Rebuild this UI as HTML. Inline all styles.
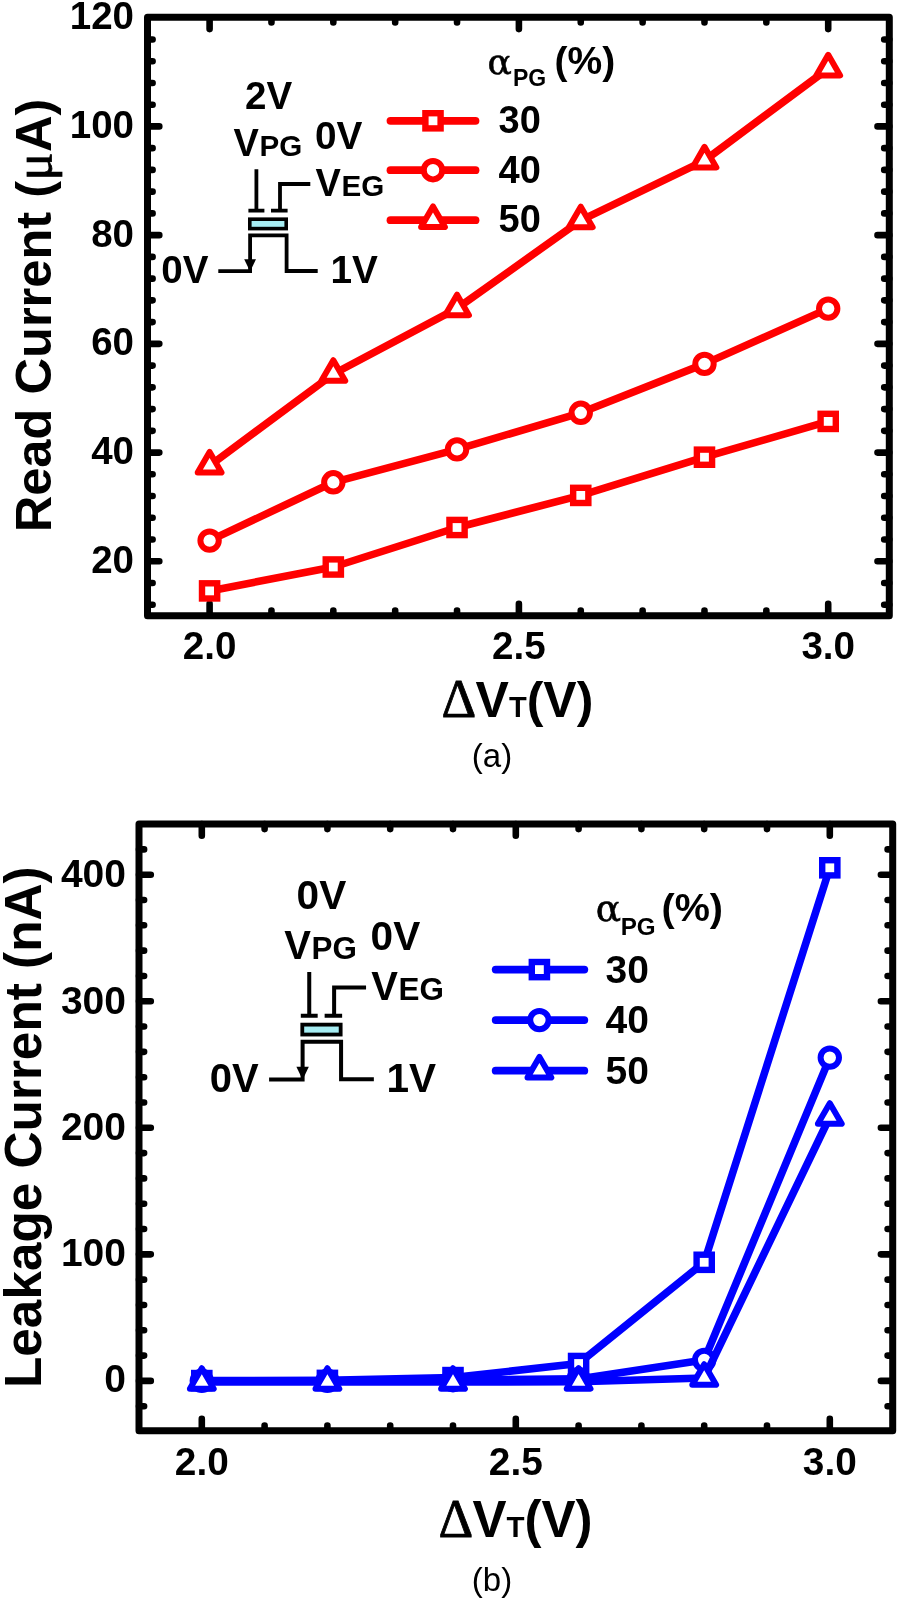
<!DOCTYPE html>
<html lang="en"><head><meta charset="utf-8"><title>Read current and leakage current versus threshold-voltage window</title>
<style>html,body{margin:0;padding:0;background:#fff}body{width:900px;height:1599px;overflow:hidden}svg{display:block;filter:blur(0.5px)}text{fill:#000}</style>
</head><body>
<svg width="900" height="1599" viewBox="0 0 900 1599">
<rect width="900" height="1599" fill="#fff"/>
<g id="panel-a">
<rect x="147.5" y="17.3" width="741.8" height="598.4" fill="none" stroke="#000" stroke-width="7" stroke-linejoin="round"/>
<path d="M209.6 615.7V603.9M209.6 17.3V29.1M518.9 615.7V603.9M518.9 17.3V29.1M828.2 615.7V603.9M828.2 17.3V29.1M271.46 615.7V610.6M271.46 17.3V22.4M333.32 615.7V610.6M333.32 17.3V22.4M395.18 615.7V610.6M395.18 17.3V22.4M457.04 615.7V610.6M457.04 17.3V22.4M580.76 615.7V610.6M580.76 17.3V22.4M642.62 615.7V610.6M642.62 17.3V22.4M704.48 615.7V610.6M704.48 17.3V22.4M766.34 615.7V610.6M766.34 17.3V22.4M147.5 561.3H159.3M889.3 561.3H877.5M147.5 452.58H159.3M889.3 452.58H877.5M147.5 343.86H159.3M889.3 343.86H877.5M147.5 235.14H159.3M889.3 235.14H877.5M147.5 126.42H159.3M889.3 126.42H877.5M147.5 604.79H152.6M889.3 604.79H884.2M147.5 583.04H152.6M889.3 583.04H884.2M147.5 539.56H152.6M889.3 539.56H884.2M147.5 517.81H152.6M889.3 517.81H884.2M147.5 496.07H152.6M889.3 496.07H884.2M147.5 474.32H152.6M889.3 474.32H884.2M147.5 430.84H152.6M889.3 430.84H884.2M147.5 409.09H152.6M889.3 409.09H884.2M147.5 387.35H152.6M889.3 387.35H884.2M147.5 365.6H152.6M889.3 365.6H884.2M147.5 322.12H152.6M889.3 322.12H884.2M147.5 300.37H152.6M889.3 300.37H884.2M147.5 278.63H152.6M889.3 278.63H884.2M147.5 256.88H152.6M889.3 256.88H884.2M147.5 213.4H152.6M889.3 213.4H884.2M147.5 191.65H152.6M889.3 191.65H884.2M147.5 169.91H152.6M889.3 169.91H884.2M147.5 148.16H152.6M889.3 148.16H884.2M147.5 104.68H152.6M889.3 104.68H884.2M147.5 82.93H152.6M889.3 82.93H884.2M147.5 61.19H152.6M889.3 61.19H884.2M147.5 39.44H152.6M889.3 39.44H884.2" fill="none" stroke="#000" stroke-width="6.6" stroke-linecap="round"/>
<path d="M209.6 590.9L333.32 567L457.04 527.5L580.76 495.4L704.48 457.2L828.2 421.4" fill="none" stroke="#ff0000" stroke-width="7.6" stroke-linejoin="round" stroke-linecap="round"/>
<rect x="202" y="583.3" width="15.2" height="15.2" fill="#fff" stroke="#ff0000" stroke-width="6.4"/>
<rect x="325.72" y="559.4" width="15.2" height="15.2" fill="#fff" stroke="#ff0000" stroke-width="6.4"/>
<rect x="449.44" y="519.9" width="15.2" height="15.2" fill="#fff" stroke="#ff0000" stroke-width="6.4"/>
<rect x="573.16" y="487.8" width="15.2" height="15.2" fill="#fff" stroke="#ff0000" stroke-width="6.4"/>
<rect x="696.88" y="449.6" width="15.2" height="15.2" fill="#fff" stroke="#ff0000" stroke-width="6.4"/>
<rect x="820.6" y="413.8" width="15.2" height="15.2" fill="#fff" stroke="#ff0000" stroke-width="6.4"/>
<path d="M209.6 540.6L333.32 482.3L457.04 449.4L580.76 412.8L704.48 363.9L828.2 308.6" fill="none" stroke="#ff0000" stroke-width="7.6" stroke-linejoin="round" stroke-linecap="round"/>
<circle cx="209.6" cy="540.6" r="9.2" fill="#fff" stroke="#ff0000" stroke-width="6"/>
<circle cx="333.32" cy="482.3" r="9.2" fill="#fff" stroke="#ff0000" stroke-width="6"/>
<circle cx="457.04" cy="449.4" r="9.2" fill="#fff" stroke="#ff0000" stroke-width="6"/>
<circle cx="580.76" cy="412.8" r="9.2" fill="#fff" stroke="#ff0000" stroke-width="6"/>
<circle cx="704.48" cy="363.9" r="9.2" fill="#fff" stroke="#ff0000" stroke-width="6"/>
<circle cx="828.2" cy="308.6" r="9.2" fill="#fff" stroke="#ff0000" stroke-width="6"/>
<path d="M209.6 465.7L333.32 374L457.04 308.4L580.76 220.4L704.48 160.6L828.2 68.6" fill="none" stroke="#ff0000" stroke-width="7.6" stroke-linejoin="round" stroke-linecap="round"/>
<polygon points="209.6,451.96 221.5,472.57 197.7,472.57" fill="#fff" stroke="#ff0000" stroke-width="6" stroke-linejoin="round"/>
<polygon points="333.32,360.26 345.22,380.87 321.42,380.87" fill="#fff" stroke="#ff0000" stroke-width="6" stroke-linejoin="round"/>
<polygon points="457.04,294.66 468.94,315.27 445.14,315.27" fill="#fff" stroke="#ff0000" stroke-width="6" stroke-linejoin="round"/>
<polygon points="580.76,206.66 592.66,227.27 568.86,227.27" fill="#fff" stroke="#ff0000" stroke-width="6" stroke-linejoin="round"/>
<polygon points="704.48,146.86 716.38,167.47 692.58,167.47" fill="#fff" stroke="#ff0000" stroke-width="6" stroke-linejoin="round"/>
<polygon points="828.2,54.86 840.1,75.47 816.3,75.47" fill="#fff" stroke="#ff0000" stroke-width="6" stroke-linejoin="round"/>
<text x="134" y="572.7" font-family='"Liberation Sans", Arial, Helvetica, sans-serif' font-size="38.5" font-weight="bold" text-anchor="end">20</text>
<text x="134" y="463.98" font-family='"Liberation Sans", Arial, Helvetica, sans-serif' font-size="38.5" font-weight="bold" text-anchor="end">40</text>
<text x="134" y="355.26" font-family='"Liberation Sans", Arial, Helvetica, sans-serif' font-size="38.5" font-weight="bold" text-anchor="end">60</text>
<text x="134" y="246.54" font-family='"Liberation Sans", Arial, Helvetica, sans-serif' font-size="38.5" font-weight="bold" text-anchor="end">80</text>
<text x="134" y="137.82" font-family='"Liberation Sans", Arial, Helvetica, sans-serif' font-size="38.5" font-weight="bold" text-anchor="end">100</text>
<text x="134" y="29.1" font-family='"Liberation Sans", Arial, Helvetica, sans-serif' font-size="38.5" font-weight="bold" text-anchor="end">120</text>
<text x="209.6" y="658.8" font-family='"Liberation Sans", Arial, Helvetica, sans-serif' font-size="38.6" font-weight="bold" text-anchor="middle">2.0</text>
<text x="518.9" y="658.8" font-family='"Liberation Sans", Arial, Helvetica, sans-serif' font-size="38.6" font-weight="bold" text-anchor="middle">2.5</text>
<text x="828.2" y="658.8" font-family='"Liberation Sans", Arial, Helvetica, sans-serif' font-size="38.6" font-weight="bold" text-anchor="middle">3.0</text>
<text transform="translate(51 315.5) rotate(-90)" font-family='"Liberation Sans", Arial, Helvetica, sans-serif' font-size="50.6" font-weight="bold" text-anchor="middle">Read Current (<tspan font-family='"Liberation Serif", "DejaVu Serif", serif' font-weight="normal" font-size="52" dx="0.5" stroke="#000" stroke-width="0.8">&#956;</tspan><tspan dx="0.5">A)</tspan></text>
<text x="441.6" y="717" font-family='"Liberation Sans", Arial, Helvetica, sans-serif' font-size="50" font-weight="bold"><tspan font-family='"Liberation Serif", "DejaVu Serif", serif' font-weight="normal" font-size="54" stroke="#000" stroke-width="0.8">&#916;</tspan><tspan x="475.6">V</tspan><tspan font-size="29">T</tspan>(V)</text>
<text x="492" y="767" font-family='"Liberation Sans", Arial, Helvetica, sans-serif' font-size="33" font-weight="normal" text-anchor="middle">(a)</text>
<text x="487.5" y="74.4" font-family='"Liberation Sans", Arial, Helvetica, sans-serif' font-size="38" font-weight="bold"><tspan font-family='"DejaVu Serif", "Liberation Serif", serif' font-weight="normal" font-size="36" stroke="#000" stroke-width="0.6">&#945;</tspan><tspan font-size="23" dx="1.2" dy="11.4">PG</tspan><tspan dy="-11.4" dx="-2.6" font-size="39"> (%)</tspan></text>
<path d="M390.5 120.8H475.5" stroke="#ff0000" stroke-width="7.8" stroke-linecap="round" fill="none"/>
<rect x="425.4" y="113.2" width="15.2" height="15.2" fill="#fff" stroke="#ff0000" stroke-width="6.4"/>
<text x="498.6" y="133.4" font-family='"Liberation Sans", Arial, Helvetica, sans-serif' font-size="38" font-weight="bold" text-anchor="start">30</text>
<path d="M390.5 170.2H475.5" stroke="#ff0000" stroke-width="7.8" stroke-linecap="round" fill="none"/>
<circle cx="433" cy="170.2" r="9.2" fill="#fff" stroke="#ff0000" stroke-width="6"/>
<text x="498.6" y="183.4" font-family='"Liberation Sans", Arial, Helvetica, sans-serif' font-size="38" font-weight="bold" text-anchor="start">40</text>
<path d="M390.5 220.2H475.5" stroke="#ff0000" stroke-width="7.8" stroke-linecap="round" fill="none"/>
<polygon points="433,206.46 444.9,227.07 421.1,227.07" fill="#fff" stroke="#ff0000" stroke-width="6" stroke-linejoin="round"/>
<text x="498.6" y="232.3" font-family='"Liberation Sans", Arial, Helvetica, sans-serif' font-size="38" font-weight="bold" text-anchor="start">50</text>
<g transform="translate(0 0) scale(1)" fill="none" stroke="#000" stroke-width="3.8">
<path d="M256.4 169.3V210.7M248.4 210.7H264.4"/>
<path d="M310.3 184H280V210.7M271 210.7H287.6"/>
<rect x="249.8" y="219.2" width="36.4" height="9.4" fill="#a6edf3" stroke-width="3.6"/>
<path d="M218.3 271.2H250.1V235.4H286.6V271H317.7" stroke-linejoin="miter"/>
<path d="M244.2 259.2H256L250.1 271.4Z" fill="#000" stroke="none"/>
</g>
<text x="245" y="109" font-family='"Liberation Sans", Arial, Helvetica, sans-serif' font-size="38.6" font-weight="bold" text-anchor="start">2V</text>
<text x="233.6" y="156" font-family='"Liberation Sans", Arial, Helvetica, sans-serif' font-size="38" font-weight="bold">V<tspan font-size="29.6" dx="0.6">PG</tspan></text>
<text x="315" y="148.6" font-family='"Liberation Sans", Arial, Helvetica, sans-serif' font-size="38.8" font-weight="bold" text-anchor="start">0V</text>
<text x="315.6" y="196" font-family='"Liberation Sans", Arial, Helvetica, sans-serif' font-size="38" font-weight="bold">V<tspan font-size="29.6" dx="0.6">EG</tspan></text>
<text x="161.2" y="282.6" font-family='"Liberation Sans", Arial, Helvetica, sans-serif' font-size="38.6" font-weight="bold" text-anchor="start">0V</text>
<text x="330.4" y="282.6" font-family='"Liberation Sans", Arial, Helvetica, sans-serif' font-size="38.8" font-weight="bold" text-anchor="start">1V</text>
</g>
<g id="panel-b">
<rect x="139" y="824" width="753.7" height="606.7" fill="none" stroke="#000" stroke-width="7" stroke-linejoin="round"/>
<path d="M201.8 1430.7V1418.9M201.8 824V835.8M515.8 1430.7V1418.9M515.8 824V835.8M829.8 1430.7V1418.9M829.8 824V835.8M264.6 1430.7V1425.6M264.6 824V829.1M327.4 1430.7V1425.6M327.4 824V829.1M390.2 1430.7V1425.6M390.2 824V829.1M453 1430.7V1425.6M453 824V829.1M578.6 1430.7V1425.6M578.6 824V829.1M641.4 1430.7V1425.6M641.4 824V829.1M704.2 1430.7V1425.6M704.2 824V829.1M767 1430.7V1425.6M767 824V829.1M139 1380.9H150.8M892.7 1380.9H880.9M139 1254.35H150.8M892.7 1254.35H880.9M139 1127.8H150.8M892.7 1127.8H880.9M139 1001.25H150.8M892.7 1001.25H880.9M139 874.7H150.8M892.7 874.7H880.9M139 1406.21H144.1M892.7 1406.21H887.6M139 1355.59H144.1M892.7 1355.59H887.6M139 1330.28H144.1M892.7 1330.28H887.6M139 1304.97H144.1M892.7 1304.97H887.6M139 1279.66H144.1M892.7 1279.66H887.6M139 1229.04H144.1M892.7 1229.04H887.6M139 1203.73H144.1M892.7 1203.73H887.6M139 1178.42H144.1M892.7 1178.42H887.6M139 1153.11H144.1M892.7 1153.11H887.6M139 1102.49H144.1M892.7 1102.49H887.6M139 1077.18H144.1M892.7 1077.18H887.6M139 1051.87H144.1M892.7 1051.87H887.6M139 1026.56H144.1M892.7 1026.56H887.6M139 975.94H144.1M892.7 975.94H887.6M139 950.63H144.1M892.7 950.63H887.6M139 925.32H144.1M892.7 925.32H887.6M139 900.01H144.1M892.7 900.01H887.6M139 849.39H144.1M892.7 849.39H887.6" fill="none" stroke="#000" stroke-width="6.6" stroke-linecap="round"/>
<path d="M201.8 1380.6L327.4 1380.4L453 1377.6L578.6 1363.5L704.2 1262.3L829.8 867.8" fill="none" stroke="#0000ff" stroke-width="7.6" stroke-linejoin="round" stroke-linecap="round"/>
<rect x="194.2" y="1373" width="15.2" height="15.2" fill="#fff" stroke="#0000ff" stroke-width="6.4"/>
<rect x="319.8" y="1372.8" width="15.2" height="15.2" fill="#fff" stroke="#0000ff" stroke-width="6.4"/>
<rect x="445.4" y="1370" width="15.2" height="15.2" fill="#fff" stroke="#0000ff" stroke-width="6.4"/>
<rect x="571" y="1355.9" width="15.2" height="15.2" fill="#fff" stroke="#0000ff" stroke-width="6.4"/>
<rect x="696.6" y="1254.7" width="15.2" height="15.2" fill="#fff" stroke="#0000ff" stroke-width="6.4"/>
<rect x="822.2" y="860.2" width="15.2" height="15.2" fill="#fff" stroke="#0000ff" stroke-width="6.4"/>
<path d="M201.8 1380.8L327.4 1380.8L453 1380.2L578.6 1378.9L704.2 1360L829.8 1057.6" fill="none" stroke="#0000ff" stroke-width="7.6" stroke-linejoin="round" stroke-linecap="round"/>
<circle cx="201.8" cy="1380.8" r="9.2" fill="#fff" stroke="#0000ff" stroke-width="6"/>
<circle cx="327.4" cy="1380.8" r="9.2" fill="#fff" stroke="#0000ff" stroke-width="6"/>
<circle cx="453" cy="1380.2" r="9.2" fill="#fff" stroke="#0000ff" stroke-width="6"/>
<circle cx="578.6" cy="1378.9" r="9.2" fill="#fff" stroke="#0000ff" stroke-width="6"/>
<circle cx="704.2" cy="1360" r="9.2" fill="#fff" stroke="#0000ff" stroke-width="6"/>
<circle cx="829.8" cy="1057.6" r="9.2" fill="#fff" stroke="#0000ff" stroke-width="6"/>
<path d="M201.8 1382L327.4 1382L453 1382L578.6 1381.8L704.2 1378L829.8 1117" fill="none" stroke="#0000ff" stroke-width="7.6" stroke-linejoin="round" stroke-linecap="round"/>
<polygon points="201.8,1368.26 213.7,1388.87 189.9,1388.87" fill="#fff" stroke="#0000ff" stroke-width="6" stroke-linejoin="round"/>
<polygon points="327.4,1368.26 339.3,1388.87 315.5,1388.87" fill="#fff" stroke="#0000ff" stroke-width="6" stroke-linejoin="round"/>
<polygon points="453,1368.26 464.9,1388.87 441.1,1388.87" fill="#fff" stroke="#0000ff" stroke-width="6" stroke-linejoin="round"/>
<polygon points="578.6,1368.06 590.5,1388.67 566.7,1388.67" fill="#fff" stroke="#0000ff" stroke-width="6" stroke-linejoin="round"/>
<polygon points="704.2,1364.26 716.1,1384.87 692.3,1384.87" fill="#fff" stroke="#0000ff" stroke-width="6" stroke-linejoin="round"/>
<polygon points="829.8,1103.26 841.7,1123.87 817.9,1123.87" fill="#fff" stroke="#0000ff" stroke-width="6" stroke-linejoin="round"/>
<text x="126" y="1392.4" font-family='"Liberation Sans", Arial, Helvetica, sans-serif' font-size="39" font-weight="bold" text-anchor="end">0</text>
<text x="126" y="1265.6" font-family='"Liberation Sans", Arial, Helvetica, sans-serif' font-size="39" font-weight="bold" text-anchor="end">100</text>
<text x="126" y="1140" font-family='"Liberation Sans", Arial, Helvetica, sans-serif' font-size="39" font-weight="bold" text-anchor="end">200</text>
<text x="126" y="1013.8" font-family='"Liberation Sans", Arial, Helvetica, sans-serif' font-size="39" font-weight="bold" text-anchor="end">300</text>
<text x="126" y="886.8" font-family='"Liberation Sans", Arial, Helvetica, sans-serif' font-size="39" font-weight="bold" text-anchor="end">400</text>
<text x="201.8" y="1474.8" font-family='"Liberation Sans", Arial, Helvetica, sans-serif' font-size="38.8" font-weight="bold" text-anchor="middle">2.0</text>
<text x="515.8" y="1474.8" font-family='"Liberation Sans", Arial, Helvetica, sans-serif' font-size="38.8" font-weight="bold" text-anchor="middle">2.5</text>
<text x="829.8" y="1474.8" font-family='"Liberation Sans", Arial, Helvetica, sans-serif' font-size="38.8" font-weight="bold" text-anchor="middle">3.0</text>
<text transform="translate(41.3 1127.2) rotate(-90)" font-family='"Liberation Sans", Arial, Helvetica, sans-serif' font-size="51.3" font-weight="bold" text-anchor="middle">Leakage Current (nA)</text>
<text x="438.6" y="1537" font-family='"Liberation Sans", Arial, Helvetica, sans-serif' font-size="51" font-weight="bold"><tspan font-family='"Liberation Serif", "DejaVu Serif", serif' font-weight="normal" font-size="54" stroke="#000" stroke-width="0.8">&#916;</tspan><tspan x="472.4">V</tspan><tspan font-size="29.5">T</tspan>(V)</text>
<text x="492" y="1591" font-family='"Liberation Sans", Arial, Helvetica, sans-serif' font-size="33" font-weight="normal" text-anchor="middle">(b)</text>
<text x="595.8" y="920.6" font-family='"Liberation Sans", Arial, Helvetica, sans-serif' font-size="39" font-weight="bold"><tspan font-family='"DejaVu Serif", "Liberation Serif", serif' font-weight="normal" font-size="37.5" stroke="#000" stroke-width="0.6">&#945;</tspan><tspan font-size="24.2" dx="-0.4" dy="14.8">PG</tspan><tspan dy="-14.8" dx="-5.2" font-size="39.6"> (%)</tspan></text>
<path d="M495.7 969.6H584.3" stroke="#0000ff" stroke-width="7.8" stroke-linecap="round" fill="none"/>
<rect x="531.8" y="962" width="15.2" height="15.2" fill="#fff" stroke="#0000ff" stroke-width="6.4"/>
<text x="605.6" y="982.6" font-family='"Liberation Sans", Arial, Helvetica, sans-serif' font-size="39" font-weight="bold" text-anchor="start">30</text>
<path d="M495.7 1020.1H584.3" stroke="#0000ff" stroke-width="7.8" stroke-linecap="round" fill="none"/>
<circle cx="539.4" cy="1020.1" r="9.2" fill="#fff" stroke="#0000ff" stroke-width="6"/>
<text x="605.6" y="1033.1" font-family='"Liberation Sans", Arial, Helvetica, sans-serif' font-size="39" font-weight="bold" text-anchor="start">40</text>
<path d="M495.7 1070.7H584.3" stroke="#0000ff" stroke-width="7.8" stroke-linecap="round" fill="none"/>
<polygon points="539.4,1056.96 551.3,1077.57 527.5,1077.57" fill="#fff" stroke="#0000ff" stroke-width="6" stroke-linejoin="round"/>
<text x="605.6" y="1083.7" font-family='"Liberation Sans", Arial, Helvetica, sans-serif' font-size="39" font-weight="bold" text-anchor="start">50</text>
<g transform="translate(39 793.6) scale(1.054)" fill="none" stroke="#000" stroke-width="3.8">
<path d="M256.4 169.3V210.7M248.4 210.7H264.4"/>
<path d="M310.3 184H280V210.7M271 210.7H287.6"/>
<rect x="249.8" y="219.2" width="36.4" height="9.4" fill="#a6edf3" stroke-width="3.6"/>
<path d="M218.3 271.2H250.1V235.4H286.6V271H317.7" stroke-linejoin="miter"/>
<path d="M244.2 259.2H256L250.1 271.4Z" fill="#000" stroke="none"/>
</g>
<text x="296.6" y="908.8" font-family='"Liberation Sans", Arial, Helvetica, sans-serif' font-size="40.6" font-weight="bold" text-anchor="start">0V</text>
<text x="284.2" y="958.6" font-family='"Liberation Sans", Arial, Helvetica, sans-serif' font-size="40" font-weight="bold">V<tspan font-size="31.4" dx="0.6">PG</tspan></text>
<text x="370.6" y="949.8" font-family='"Liberation Sans", Arial, Helvetica, sans-serif' font-size="40.6" font-weight="bold" text-anchor="start">0V</text>
<text x="371.2" y="1000" font-family='"Liberation Sans", Arial, Helvetica, sans-serif' font-size="40" font-weight="bold">V<tspan font-size="31.4" dx="0.6">EG</tspan></text>
<text x="209.8" y="1092.2" font-family='"Liberation Sans", Arial, Helvetica, sans-serif' font-size="40" font-weight="bold" text-anchor="start">0V</text>
<text x="386.4" y="1092.2" font-family='"Liberation Sans", Arial, Helvetica, sans-serif' font-size="40.6" font-weight="bold" text-anchor="start">1V</text>
</g>
</svg>
</body></html>
